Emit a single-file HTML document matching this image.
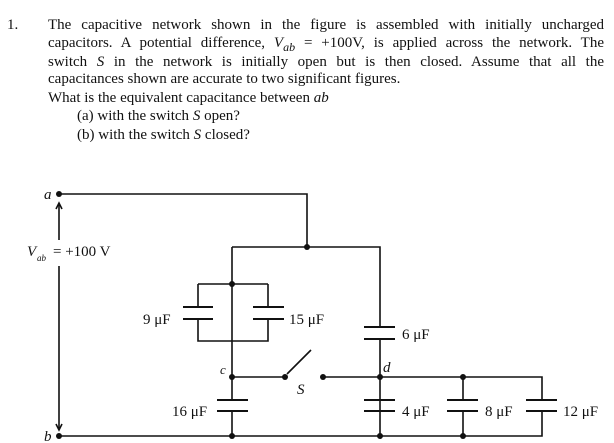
<!DOCTYPE html>
<html><head><meta charset="utf-8"><style>
body{margin:0;width:614px;height:443px;background:#fff;position:relative;overflow:hidden;font-family:"Liberation Serif",serif;font-size:15px;color:#111}
.l{position:absolute;left:48px;width:556px;white-space:nowrap;line-height:18px}
.j{text-align:justify;text-align-last:justify;white-space:normal}
svg{position:absolute;left:0;top:0}
</style></head><body>
<div class="l" style="left:7px;top:16px">1.</div>
<div class="l j" style="top:16px">The capacitive network shown in the figure is assembled with initially uncharged</div>
<div class="l j" style="top:34px">capacitors. A potential difference, <i>V<sub style="font-size:12px">ab</sub></i> = +100V, is applied across the network. The</div>
<div class="l j" style="top:53px">switch <i>S</i> in the network is initially open but is then closed. Assume that all the</div>
<div class="l" style="top:70px">capacitances shown are accurate to two significant figures.</div>
<div class="l" style="top:89px">What is the equivalent capacitance between <i>ab</i></div>
<div class="l" style="left:77px;top:107px">(a) with the switch <i>S</i> open?</div>
<div class="l" style="left:77px;top:126px">(b) with the switch <i>S</i> closed?</div>
<svg width="614" height="443" font-family="Liberation Serif,serif" font-size="15">
<g stroke="#111" stroke-width="1.6" fill="none">
<path d="M59 194H307V247M232 247H380V327M380 339V436M59 436H542V411M542 400V377H323M232 247V341M198 284H268M198 284V307M198 319V341H268V319M268 307V284M232 341V400M232 411V436M232 377H285M287 374L311 350M463 377V400M463 411V436M380 377V400"/>
<path d="M183 307H213M183 319H213M253 307H284M253 319H284M217 400H248M217 411H248M364 327H395M364 339H395M364 400H395M364 411H395M447 400H478M447 411H478M526 400H557M526 411H557" stroke-width="2"/>
<path d="M59 205V240M59 266V428"/>
<path d="M56 209L59 203L62 209M56 424L59 430L62 424"/>
</g>
<g fill="#111">
<circle cx="59" cy="194" r="3"/><circle cx="59" cy="436" r="3"/><circle cx="307" cy="247" r="3"/><circle cx="232" cy="284" r="3"/>
<circle cx="232" cy="377" r="3"/><circle cx="285" cy="377" r="3"/><circle cx="323" cy="377" r="3"/><circle cx="380" cy="377" r="3"/>
<circle cx="463" cy="377" r="3"/><circle cx="232" cy="436" r="3"/><circle cx="380" cy="436" r="3"/><circle cx="463" cy="436" r="3"/>
<text x="44" y="199" font-style="italic">a</text>
<text x="44" y="441" font-style="italic">b</text>
<text x="27" y="256" font-style="italic">V</text><text x="37" y="261" font-size="9" font-style="italic">ab</text>
<text x="53" y="256">= +100 V</text>
<text x="143" y="324">9 μF</text>
<text x="289" y="324">15 μF</text>
<text x="172" y="416">16 μF</text>
<text x="220" y="374" font-style="italic" font-size="13">c</text>
<text x="297" y="394" font-style="italic">S</text>
<text x="383" y="372" font-style="italic">d</text>
<text x="402" y="339">6 μF</text>
<text x="402" y="416">4 μF</text>
<text x="485" y="416">8 μF</text>
<text x="563" y="416">12 μF</text>
</g>
</svg>
</body></html>
